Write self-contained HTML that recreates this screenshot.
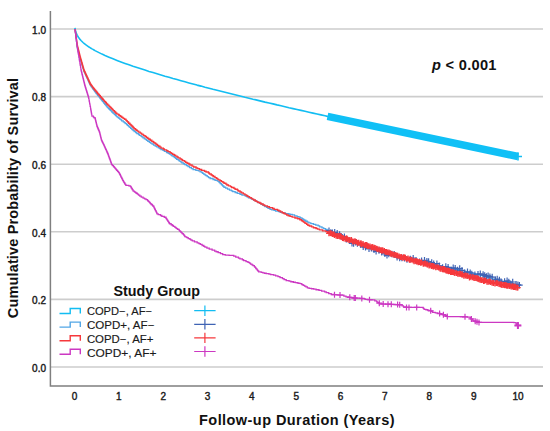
<!DOCTYPE html>
<html><head><meta charset="utf-8"><style>
html,body{margin:0;padding:0;background:#fff;overflow:hidden;}
svg{display:block;}
.t{font-family:"Liberation Sans",sans-serif;font-size:10px;fill:#1a1a1a;stroke:#1a1a1a;stroke-width:0.4px;}
.b{font-family:"Liberation Sans",sans-serif;font-weight:bold;fill:#111;}
</style></head><body>
<svg width="550" height="431" viewBox="0 0 550 431">
<line x1="51" y1="367.0" x2="543" y2="367.0" stroke="#cdcdcd" stroke-width="1.6"/>
<line x1="51" y1="299.4" x2="543" y2="299.4" stroke="#cdcdcd" stroke-width="1.6"/>
<line x1="51" y1="231.8" x2="543" y2="231.8" stroke="#cdcdcd" stroke-width="1.6"/>
<line x1="51" y1="164.2" x2="543" y2="164.2" stroke="#cdcdcd" stroke-width="1.6"/>
<line x1="51" y1="96.6" x2="543" y2="96.6" stroke="#cdcdcd" stroke-width="1.6"/>
<line x1="51" y1="29.0" x2="543" y2="29.0" stroke="#cdcdcd" stroke-width="1.6"/>
<path d="M50.4 11V385.9H543" fill="none" stroke="#7f7f7f" stroke-width="1.5"/>
<polyline points="75.0,27.8 75.2,29.6 75.5,30.7 75.8,31.6 76.0,32.4 76.2,33.1 76.5,33.7 76.8,34.3 77.0,34.8 77.2,35.3 77.5,35.8 77.8,36.2 78.0,36.6 78.2,37.0 78.5,37.4 78.8,37.8 79.0,38.1 80.0,39.4 81.0,40.5 82.0,41.5 83.0,42.5 84.0,43.3 85.0,44.1 86.0,44.9 87.0,45.6 88.0,46.3 89.0,47.0 90.0,47.6 91.0,48.3 92.0,48.9 93.0,49.4 94.0,50.0 95.0,50.6 96.0,51.1 97.0,51.6 98.0,52.1 99.0,52.6 100.0,53.1 101.0,53.6 102.0,54.1 103.0,54.5 104.0,55.0 105.0,55.5 109.0,57.2 113.0,58.8 117.0,60.4 121.0,61.9 125.0,63.4 129.0,64.8 133.0,66.2 137.0,67.5 141.0,68.8 145.0,70.1 149.0,71.4 153.0,72.6 157.0,73.8 161.0,75.0 165.0,76.2 169.0,77.3 173.0,78.5 177.0,79.6 181.0,80.7 185.0,81.8 189.0,82.9 193.0,84.0 197.0,85.1 201.0,86.1 205.0,87.2 209.0,88.2 213.0,89.3 217.0,90.3 221.0,91.3 225.0,92.3 229.0,93.3 233.0,94.3 237.0,95.3 241.0,96.3 245.0,97.3 249.0,98.2 253.0,99.2 257.0,100.1 261.0,101.1 265.0,102.1 269.0,103.0 273.0,103.9 277.0,104.9 281.0,105.8 285.0,106.7 289.0,107.7 293.0,108.6 297.0,109.5 301.0,110.4 305.0,111.3 309.0,112.2 313.0,113.1 317.0,114.0 321.0,114.9 325.0,115.8 327.5,116.4 518.0,156.5" fill="none" stroke="#12bdf2" stroke-width="1.6" stroke-linejoin="round"/>
<polyline points="327.5,116.4 518.0,156.5" fill="none" stroke="#10c0f6" stroke-width="7.5" stroke-linejoin="round"/>
<path d="M514.0 156.5H522.0M518.0 152.5V160.5" stroke="#12bdf2" stroke-width="1.6"/>
<path d="M75.0 29.0L75.21 30.81L75.43 32.62L75.63 34.33L75.84 36.10L76.03 37.79V38.58H76.22L76.40 40.88V41.44H76.53L76.70 43.44V44.16H76.87L77.03 46.14V46.59H77.26V47.34H77.41V48.21H77.70V49.15H77.88V49.95H78.10V50.82H78.31V51.56H78.47V52.49H78.77V53.34H78.90V53.98H79.09V54.77H79.29V55.46H79.44V56.30H79.71V57.11H79.85V57.81H80.05V58.69H80.37V59.75H80.70V60.68H80.95V61.39H81.14V62.14H81.41V62.94H81.63V63.81H81.95V64.68H82.16V65.61H82.52V66.57H82.75V67.28H82.96V68.25H83.35V69.18H83.53V69.81H83.74V70.77H84.12V71.68H84.50V72.40H84.78V73.17H85.21V74.12H85.64V75.08H86.09V75.99H86.47V76.80H86.84V77.54H87.14V78.22H87.46V78.91H87.77V79.70H88.19V80.50H88.50V81.28H88.90V82.01H89.17V82.76H89.58V83.66H89.99V84.44H90.30V85.31H90.95V86.06H91.37V86.87H92.11V87.81H92.73V88.58H93.21V89.29H93.75V90.17H94.48V91.00H94.93V91.89H95.76V92.82H96.27V93.66H97.10V94.51H97.63V95.38H98.49V96.37H99.21V97.22H99.84V98.01H100.47V98.84H101.18V99.70H101.84V100.45H102.38V101.38H103.33V102.38H103.96V103.30H104.81V104.26H105.49V105.20H106.32V106.21H107.10V107.07H107.84V107.86H108.67V108.74H109.61V109.59H110.36V110.36H111.17V111.12H111.87V111.98H112.89V112.98H113.87V113.88H114.68V114.71H115.54V115.46H116.17V116.14H116.98V116.85H117.97V117.63H118.93V118.34H119.75V119.13H120.92V119.89H121.65V120.80H123.22V121.87H124.33V122.68H125.25V123.63H126.67V124.64H127.51V125.39H128.36V126.12H129.13V126.80H129.87V127.47H130.65V128.26H131.65V129.06H132.43V129.81H133.34V130.63H134.27V131.69H135.71V132.61H136.85V133.57H138.44V134.44H139.31V135.38H141.11V136.29H141.90V136.96H142.99V137.83H144.36V138.83H145.85V139.65H146.71V140.33H147.80V141.26H149.36V142.23H150.56V143.17H152.07V144.22H153.56V145.20H155.22V146.09H156.72V146.97H158.33V147.83H159.79V148.59H161.01V149.48H162.96V150.43H164.37V151.43H166.51V152.51H168.21V153.33H169.41V154.16H171.03V155.04H171.91V155.83H173.25V156.71H174.39V157.56H175.65V158.33H176.55V159.25H178.26V160.22H179.27V161.06H180.62V161.95H181.79V162.89H183.33V163.73H184.64V164.63H186.42V165.63H188.03V166.56H189.60V167.55H191.42V168.58H193.11V169.58H195.88V170.31H198.40V170.90H200.13V171.78H201.82V172.67H202.69V173.32H203.67V174.08H204.87V174.85H205.87V175.67H207.21V176.62H208.58V177.62H210.13V178.51H213.05V179.49H215.06V180.36H217.41V181.08H218.69V181.77H219.44V182.56H220.23V183.55H221.39V184.57H222.25V185.39H222.98V186.27H223.97V187.26H225.67V188.14H227.54V189.09H229.50V190.05H231.44V190.84H232.71V191.69H235.14V192.51H237.25V193.40H240.04V194.25H241.96V195.19H245.28V196.10H246.99V196.86H248.47V197.81H250.84V198.71H252.10V199.35H253.43V200.07H255.03V200.76H256.20V201.44H257.47V202.34H259.34V203.34H261.02V204.26H262.58V205.02H263.69V205.70H264.96V206.53H266.63V207.39H267.99V208.37H270.07V209.33H271.81V209.89H274.05V210.43H275.59V211.06H278.46V211.71H280.16V212.25H282.27V212.97H285.46V213.55H288.30V213.98H289.83V214.36H292.23V214.91H294.56V215.78H297.03V216.57H298.94V217.16H300.28V217.96H301.93V218.77H302.96V219.42H304.09V220.26H305.77V221.26H307.43V222.21H308.93V222.97H310.82V223.65H313.46V224.40H315.74V225.12H318.17V225.86H319.67V226.79H321.96V227.79H323.71V228.65H325.45V229.50H327.11V230.22H328.06V230.94H329.00" fill="none" stroke="#52a6e6" stroke-width="1.3"/>
<polyline points="327.3,230.0 329.0,231.3 345.0,238.3 360.0,245.3 390.0,254.7 405.0,258.0 423.6,261.6 447.3,267.7 470.9,272.5 494.6,279.3 520.0,285.2" fill="none" stroke="#52a6e6" stroke-width="1.3"/>
<path d="M325.7 230.7H332.3M329.0 227.4V234.0" stroke="#3f63b4" stroke-width="1.2"/>
<path d="M327.5 232.6H334.1M330.8 229.3V235.9" stroke="#3f63b4" stroke-width="1.2"/>
<path d="M329.1 232.9H335.7M332.4 229.6V236.2" stroke="#3f63b4" stroke-width="1.2"/>
<path d="M331.4 232.4H338.0M334.7 229.1V235.7" stroke="#3f63b4" stroke-width="1.2"/>
<path d="M333.9 233.4H340.5M337.2 230.1V236.7" stroke="#3f63b4" stroke-width="1.2"/>
<path d="M336.3 234.5H342.9M339.6 231.2V237.8" stroke="#3f63b4" stroke-width="1.2"/>
<path d="M337.9 236.4H344.5M341.2 233.1V239.7" stroke="#3f63b4" stroke-width="1.2"/>
<path d="M341.1 236.8H347.7M344.4 233.5V240.1" stroke="#3f63b4" stroke-width="1.2"/>
<path d="M343.0 239.3H349.6M346.3 236.0V242.6" stroke="#3f63b4" stroke-width="1.2"/>
<path d="M346.4 240.8H353.0M349.7 237.5V244.1" stroke="#3f63b4" stroke-width="1.2"/>
<path d="M348.7 243.1H355.3M352.0 239.8V246.4" stroke="#3f63b4" stroke-width="1.2"/>
<path d="M350.3 243.5H356.9M353.6 240.2V246.8" stroke="#3f63b4" stroke-width="1.2"/>
<path d="M352.4 242.2H359.0M355.7 238.9V245.5" stroke="#3f63b4" stroke-width="1.2"/>
<path d="M354.1 243.5H360.7M357.4 240.2V246.8" stroke="#3f63b4" stroke-width="1.2"/>
<path d="M357.3 244.5H363.9M360.6 241.2V247.8" stroke="#3f63b4" stroke-width="1.2"/>
<path d="M359.9 246.8H366.5M363.2 243.5V250.1" stroke="#3f63b4" stroke-width="1.2"/>
<path d="M362.2 247.2H368.8M365.5 243.9V250.5" stroke="#3f63b4" stroke-width="1.2"/>
<path d="M363.8 246.1H370.4M367.1 242.8V249.4" stroke="#3f63b4" stroke-width="1.2"/>
<path d="M365.7 248.7H372.3M369.0 245.4V252.0" stroke="#3f63b4" stroke-width="1.2"/>
<path d="M368.1 248.3H374.7M371.4 245.0V251.6" stroke="#3f63b4" stroke-width="1.2"/>
<path d="M370.7 249.6H377.3M374.0 246.3V252.9" stroke="#3f63b4" stroke-width="1.2"/>
<path d="M372.8 251.3H379.4M376.1 248.0V254.6" stroke="#3f63b4" stroke-width="1.2"/>
<path d="M375.7 250.4H382.3M379.0 247.1V253.7" stroke="#3f63b4" stroke-width="1.2"/>
<path d="M378.4 252.2H385.0M381.7 248.9V255.5" stroke="#3f63b4" stroke-width="1.2"/>
<path d="M381.6 253.8H388.2M384.9 250.5V257.1" stroke="#3f63b4" stroke-width="1.2"/>
<path d="M383.7 255.3H390.3M387.0 252.0V258.6" stroke="#3f63b4" stroke-width="1.2"/>
<path d="M385.5 254.0H392.1M388.8 250.7V257.3" stroke="#3f63b4" stroke-width="1.2"/>
<path d="M388.5 254.0H395.1M391.8 250.7V257.3" stroke="#3f63b4" stroke-width="1.2"/>
<path d="M390.9 254.2H397.5M394.2 250.9V257.5" stroke="#3f63b4" stroke-width="1.2"/>
<path d="M393.8 257.1H400.4M397.1 253.8V260.4" stroke="#3f63b4" stroke-width="1.2"/>
<path d="M396.4 258.0H403.0M399.7 254.7V261.3" stroke="#3f63b4" stroke-width="1.2"/>
<path d="M398.6 257.9H405.2M401.9 254.6V261.2" stroke="#3f63b4" stroke-width="1.2"/>
<path d="M401.2 258.2H407.8M404.5 254.9V261.5" stroke="#3f63b4" stroke-width="1.2"/>
<path d="M403.7 259.5H410.3M407.0 256.2V262.8" stroke="#3f63b4" stroke-width="1.2"/>
<path d="M407.0 259.0H413.6M410.3 255.7V262.3" stroke="#3f63b4" stroke-width="1.2"/>
<path d="M409.9 258.2H416.5M413.2 254.9V261.5" stroke="#3f63b4" stroke-width="1.2"/>
<path d="M412.8 260.6H419.4M416.1 257.3V263.9" stroke="#3f63b4" stroke-width="1.2"/>
<path d="M416.3 261.8H422.9M419.6 258.5V265.1" stroke="#3f63b4" stroke-width="1.2"/>
<path d="M418.3 260.9H424.9M421.6 257.6V264.2" stroke="#3f63b4" stroke-width="1.2"/>
<path d="M421.2 260.3H427.8M424.5 257.0V263.6" stroke="#3f63b4" stroke-width="1.2"/>
<path d="M423.6 261.4H430.2M426.9 258.1V264.7" stroke="#3f63b4" stroke-width="1.2"/>
<path d="M425.3 261.5H431.9M428.6 258.2V264.8" stroke="#3f63b4" stroke-width="1.2"/>
<path d="M428.4 262.5H435.0M431.7 259.2V265.8" stroke="#3f63b4" stroke-width="1.2"/>
<path d="M430.4 263.8H437.0M433.7 260.5V267.1" stroke="#3f63b4" stroke-width="1.2"/>
<path d="M433.6 263.7H440.2M436.9 260.4V267.0" stroke="#3f63b4" stroke-width="1.2"/>
<path d="M436.0 265.8H442.6M439.3 262.5V269.1" stroke="#3f63b4" stroke-width="1.2"/>
<path d="M439.3 267.5H445.9M442.6 264.2V270.8" stroke="#3f63b4" stroke-width="1.2"/>
<path d="M442.5 266.6H449.1M445.8 263.3V269.9" stroke="#3f63b4" stroke-width="1.2"/>
<path d="M444.8 267.4H451.4M448.1 264.1V270.7" stroke="#3f63b4" stroke-width="1.2"/>
<path d="M448.1 270.0H454.7M451.4 266.7V273.3" stroke="#3f63b4" stroke-width="1.2"/>
<path d="M449.9 267.9H456.5M453.2 264.6V271.2" stroke="#3f63b4" stroke-width="1.2"/>
<path d="M451.9 268.4H458.5M455.2 265.1V271.7" stroke="#3f63b4" stroke-width="1.2"/>
<path d="M454.3 270.1H460.9M457.6 266.8V273.4" stroke="#3f63b4" stroke-width="1.2"/>
<path d="M456.4 268.6H463.0M459.7 265.3V271.9" stroke="#3f63b4" stroke-width="1.2"/>
<path d="M458.7 270.3H465.3M462.0 267.0V273.6" stroke="#3f63b4" stroke-width="1.2"/>
<path d="M461.3 272.7H467.9M464.6 269.4V276.0" stroke="#3f63b4" stroke-width="1.2"/>
<path d="M464.2 271.9H470.8M467.5 268.6V275.2" stroke="#3f63b4" stroke-width="1.2"/>
<path d="M466.9 272.9H473.5M470.2 269.6V276.2" stroke="#3f63b4" stroke-width="1.2"/>
<path d="M468.5 274.1H475.1M471.8 270.8V277.4" stroke="#3f63b4" stroke-width="1.2"/>
<path d="M471.6 274.8H478.2M474.9 271.5V278.1" stroke="#3f63b4" stroke-width="1.2"/>
<path d="M474.7 274.2H481.3M478.0 270.9V277.5" stroke="#3f63b4" stroke-width="1.2"/>
<path d="M477.0 273.9H483.6M480.3 270.6V277.2" stroke="#3f63b4" stroke-width="1.2"/>
<path d="M479.8 274.6H486.4M483.1 271.3V277.9" stroke="#3f63b4" stroke-width="1.2"/>
<path d="M481.4 275.5H488.0M484.7 272.2V278.8" stroke="#3f63b4" stroke-width="1.2"/>
<path d="M483.2 276.5H489.8M486.5 273.2V279.8" stroke="#3f63b4" stroke-width="1.2"/>
<path d="M484.8 275.8H491.4M488.1 272.5V279.1" stroke="#3f63b4" stroke-width="1.2"/>
<path d="M486.6 276.7H493.2M489.9 273.4V280.0" stroke="#3f63b4" stroke-width="1.2"/>
<path d="M488.9 277.1H495.5M492.2 273.8V280.4" stroke="#3f63b4" stroke-width="1.2"/>
<path d="M492.1 279.9H498.7M495.4 276.6V283.2" stroke="#3f63b4" stroke-width="1.2"/>
<path d="M493.9 279.1H500.5M497.2 275.8V282.4" stroke="#3f63b4" stroke-width="1.2"/>
<path d="M496.1 280.0H502.7M499.4 276.7V283.3" stroke="#3f63b4" stroke-width="1.2"/>
<path d="M497.9 281.9H504.5M501.2 278.6V285.2" stroke="#3f63b4" stroke-width="1.2"/>
<path d="M501.3 281.5H507.9M504.6 278.2V284.8" stroke="#3f63b4" stroke-width="1.2"/>
<path d="M503.8 280.9H510.4M507.1 277.6V284.2" stroke="#3f63b4" stroke-width="1.2"/>
<path d="M505.5 282.1H512.1M508.8 278.8V285.4" stroke="#3f63b4" stroke-width="1.2"/>
<path d="M507.5 284.1H514.1M510.8 280.8V287.4" stroke="#3f63b4" stroke-width="1.2"/>
<path d="M509.4 282.0H516.0M512.7 278.7V285.3" stroke="#3f63b4" stroke-width="1.2"/>
<path d="M512.8 284.4H519.4M516.1 281.1V287.7" stroke="#3f63b4" stroke-width="1.2"/>
<path d="M514.6 284.8H521.2M517.9 281.5V288.1" stroke="#3f63b4" stroke-width="1.2"/>
<path d="M516.1 285.2H522.7M519.4 281.9V288.5" stroke="#3f63b4" stroke-width="1.2"/>
<path d="M75.0 29.0L75.25 30.75V31.32H75.41V32.39H75.55L75.72 34.09V34.69H75.89L76.09 36.75V37.42H76.28L76.48 39.51V39.95H76.61L76.86 42.14V42.91H77.07L77.23 44.77V45.47H77.42V46.40H77.58V47.04H77.75V47.82H77.98V48.60H78.15V49.34H78.35V50.05H78.51V50.73H78.70V51.45H78.88V52.19H79.08V52.96H79.27V53.66H79.43V54.51H79.70V55.41H79.89V56.19H80.09V57.17H80.40V58.03H80.58V58.71H80.79V59.39H80.97V60.07H81.18V60.94H81.47V61.79H81.66V62.65H81.96V63.55H82.17V64.28H82.37V65.01H82.58V65.77H82.81V66.58H83.05V67.38H83.26V68.28H83.56V69.10H83.73V69.87H83.99V70.54H84.31V71.49H84.88V72.40H85.15V73.05H85.48V73.77H85.82V74.58H86.23V75.41H86.59V76.25H87.01V77.13H87.41V78.03H87.85V78.88H88.20V79.76H88.66V80.68H89.06V81.58H89.49V82.48H89.90V83.29H90.23V84.26H90.96V85.05H91.45V85.88H92.24V86.83H92.90V87.60H93.42V88.46H94.23V89.52H95.03V90.56H95.90V91.57H96.74V92.53H97.51V93.34H98.09V94.22H99.00V95.07H99.52V95.82H100.28V96.70H101.09V97.60H101.88V98.43H102.56V99.26H103.36V100.12H104.09V100.83H104.63V101.59H105.45V102.53H106.32V103.37H106.94V104.18H107.82V105.15H108.88V106.09H109.70V106.84H110.38V107.57H111.16V108.43H112.11V109.20H112.69V109.83H113.37V110.62H114.27V111.47H115.07V112.27H115.87V113.20H116.94V114.17H118.65V115.06H119.47V115.74H120.60V116.56H121.81V117.42H123.08V118.35H124.47V119.31H125.82V120.15H126.47V120.82H127.16V121.58H128.00V122.32H128.63V123.22H129.81V124.18H130.55V125.04H131.54V126.06H132.59V127.02H133.45V127.77H134.09V128.74H135.38V129.54H136.15V130.22H137.31V131.10H138.64V132.12H140.18V133.14H141.55V134.11H142.93V134.89H143.74V135.66H145.12V136.57H146.33V137.49H147.76V138.37H148.86V139.27H150.32V140.30H151.81V141.36H153.35V142.19H154.16V143.01H155.59V143.85H156.45V144.53H157.45V145.34H158.65V146.27H160.00V147.16H161.07V148.12H163.30V148.98H164.36V149.84H166.60V150.77H167.94V151.67H170.04V152.58H171.17V153.41H172.69V154.38H174.25V155.29H175.57V156.17H177.05V156.97H178.11V157.91H180.06V159.01H181.61V159.81H182.60V160.66H184.47V161.56H185.66V162.33H187.11V163.25H188.81V164.07H189.88V165.02H192.05V166.11H193.63V167.07H196.01V167.93H197.62V168.67H199.45V169.50H201.63V170.40H204.43V171.21H206.06V171.95H208.46V173.04H209.44V173.95H211.18V174.96H212.46V175.70H213.40V176.54H214.96V177.59H216.55V178.44H217.48V179.09H218.51V179.91H220.07V180.79H221.46V181.67H223.01V182.47H224.11V183.32H225.87V184.16H226.91V184.93H228.46V185.85H230.50V186.64H231.59V187.51H233.93V188.39H235.10V189.27H237.42V190.14H238.25V190.94H240.06V191.94H241.57V192.90H243.27V193.90H244.90V194.92H246.63V195.79H247.82V196.64H249.52V197.64H251.20V198.42H252.17V199.15H253.66V200.06H255.25V200.93H256.66V201.62H257.93V202.47H260.01V203.28H261.10V204.06H263.06V204.98H264.69V205.90H267.37V206.74H269.44V207.66H272.56V208.49H274.15V209.36H277.46V210.24H278.90V211.03H280.58V211.87H282.23V212.70H283.87V213.45H285.20V214.17H286.73V214.93H288.22V215.75H290.07V216.37H292.17V217.16H294.99V218.01H297.54V218.79H299.87V219.70H301.56V220.77H302.92V221.63H304.01V222.36H305.02V223.27H306.63V224.27H307.85V225.23H309.39V226.07H311.59V226.85H313.48V227.69H316.05V228.48H317.62V229.11H319.46V229.86H322.55V230.85H325.89V231.61H327.45V232.45H329.00" fill="none" stroke="#f6383c" stroke-width="1.4"/>
<polyline points="327.3,231.8 329.0,233.0 400.0,256.5 423.6,263.6 447.3,270.7 470.9,277.3 494.6,283.2 518.0,287.6" fill="none" stroke="#f6383c" stroke-width="1.4"/>
<path d="M326.1 233.4H331.9M329.0 230.5V236.3" stroke="#f6383c" stroke-width="1.4"/>
<path d="M327.4 233.1H333.2M330.3 230.2V236.0" stroke="#f6383c" stroke-width="1.4"/>
<path d="M328.3 233.3H334.1M331.2 230.4V236.2" stroke="#f6383c" stroke-width="1.4"/>
<path d="M329.6 234.2H335.4M332.5 231.3V237.1" stroke="#f6383c" stroke-width="1.4"/>
<path d="M331.0 234.4H336.8M333.9 231.5V237.3" stroke="#f6383c" stroke-width="1.4"/>
<path d="M331.7 235.2H337.5M334.6 232.3V238.1" stroke="#f6383c" stroke-width="1.4"/>
<path d="M333.3 235.8H339.1M336.2 232.9V238.7" stroke="#f6383c" stroke-width="1.4"/>
<path d="M334.7 236.2H340.5M337.6 233.3V239.1" stroke="#f6383c" stroke-width="1.4"/>
<path d="M336.0 236.0H341.8M338.9 233.1V238.9" stroke="#f6383c" stroke-width="1.4"/>
<path d="M337.1 236.5H342.9M340.0 233.6V239.4" stroke="#f6383c" stroke-width="1.4"/>
<path d="M337.6 236.2H343.4M340.5 233.3V239.1" stroke="#f6383c" stroke-width="1.4"/>
<path d="M338.4 236.8H344.2M341.3 233.9V239.7" stroke="#f6383c" stroke-width="1.4"/>
<path d="M339.7 238.0H345.5M342.6 235.1V240.9" stroke="#f6383c" stroke-width="1.4"/>
<path d="M340.7 238.3H346.5M343.6 235.4V241.2" stroke="#f6383c" stroke-width="1.4"/>
<path d="M342.3 238.9H348.1M345.2 236.0V241.8" stroke="#f6383c" stroke-width="1.4"/>
<path d="M343.2 238.3H349.0M346.1 235.4V241.2" stroke="#f6383c" stroke-width="1.4"/>
<path d="M343.9 238.5H349.7M346.8 235.6V241.4" stroke="#f6383c" stroke-width="1.4"/>
<path d="M344.6 239.3H350.4M347.5 236.4V242.2" stroke="#f6383c" stroke-width="1.4"/>
<path d="M346.1 240.0H351.9M349.0 237.1V242.9" stroke="#f6383c" stroke-width="1.4"/>
<path d="M347.1 240.1H352.9M350.0 237.2V243.0" stroke="#f6383c" stroke-width="1.4"/>
<path d="M348.5 239.9H354.3M351.4 237.0V242.8" stroke="#f6383c" stroke-width="1.4"/>
<path d="M349.8 241.3H355.6M352.7 238.4V244.2" stroke="#f6383c" stroke-width="1.4"/>
<path d="M351.1 241.6H356.9M354.0 238.7V244.5" stroke="#f6383c" stroke-width="1.4"/>
<path d="M352.1 241.2H357.9M355.0 238.3V244.1" stroke="#f6383c" stroke-width="1.4"/>
<path d="M353.5 241.9H359.3M356.4 239.0V244.8" stroke="#f6383c" stroke-width="1.4"/>
<path d="M354.9 243.1H360.7M357.8 240.2V246.0" stroke="#f6383c" stroke-width="1.4"/>
<path d="M355.8 242.7H361.6M358.7 239.8V245.6" stroke="#f6383c" stroke-width="1.4"/>
<path d="M357.4 243.6H363.2M360.3 240.7V246.5" stroke="#f6383c" stroke-width="1.4"/>
<path d="M358.1 243.1H363.9M361.0 240.2V246.0" stroke="#f6383c" stroke-width="1.4"/>
<path d="M358.7 244.3H364.5M361.6 241.4V247.2" stroke="#f6383c" stroke-width="1.4"/>
<path d="M360.1 243.8H365.9M363.0 240.9V246.7" stroke="#f6383c" stroke-width="1.4"/>
<path d="M361.5 245.3H367.3M364.4 242.4V248.2" stroke="#f6383c" stroke-width="1.4"/>
<path d="M362.7 244.9H368.5M365.6 242.0V247.8" stroke="#f6383c" stroke-width="1.4"/>
<path d="M363.8 245.0H369.6M366.7 242.1V247.9" stroke="#f6383c" stroke-width="1.4"/>
<path d="M364.4 246.2H370.2M367.3 243.3V249.1" stroke="#f6383c" stroke-width="1.4"/>
<path d="M365.6 246.1H371.4M368.5 243.2V249.0" stroke="#f6383c" stroke-width="1.4"/>
<path d="M367.1 246.5H372.9M370.0 243.6V249.4" stroke="#f6383c" stroke-width="1.4"/>
<path d="M368.6 247.4H374.4M371.5 244.5V250.3" stroke="#f6383c" stroke-width="1.4"/>
<path d="M369.3 247.0H375.1M372.2 244.1V249.9" stroke="#f6383c" stroke-width="1.4"/>
<path d="M370.1 247.3H375.9M373.0 244.4V250.2" stroke="#f6383c" stroke-width="1.4"/>
<path d="M371.3 247.7H377.1M374.2 244.8V250.6" stroke="#f6383c" stroke-width="1.4"/>
<path d="M372.2 247.8H378.0M375.1 244.9V250.7" stroke="#f6383c" stroke-width="1.4"/>
<path d="M373.7 248.6H379.5M376.6 245.7V251.5" stroke="#f6383c" stroke-width="1.4"/>
<path d="M374.7 249.2H380.5M377.6 246.3V252.1" stroke="#f6383c" stroke-width="1.4"/>
<path d="M376.2 249.5H382.0M379.1 246.6V252.4" stroke="#f6383c" stroke-width="1.4"/>
<path d="M377.7 250.1H383.5M380.6 247.2V253.0" stroke="#f6383c" stroke-width="1.4"/>
<path d="M378.8 250.5H384.6M381.7 247.6V253.4" stroke="#f6383c" stroke-width="1.4"/>
<path d="M379.3 250.5H385.1M382.2 247.6V253.4" stroke="#f6383c" stroke-width="1.4"/>
<path d="M380.0 250.3H385.8M382.9 247.4V253.2" stroke="#f6383c" stroke-width="1.4"/>
<path d="M381.4 250.9H387.2M384.3 248.0V253.8" stroke="#f6383c" stroke-width="1.4"/>
<path d="M382.4 251.9H388.2M385.3 249.0V254.8" stroke="#f6383c" stroke-width="1.4"/>
<path d="M383.5 251.8H389.3M386.4 248.9V254.7" stroke="#f6383c" stroke-width="1.4"/>
<path d="M384.6 252.4H390.4M387.5 249.5V255.3" stroke="#f6383c" stroke-width="1.4"/>
<path d="M386.0 252.3H391.8M388.9 249.4V255.2" stroke="#f6383c" stroke-width="1.4"/>
<path d="M387.1 252.9H392.9M390.0 250.0V255.8" stroke="#f6383c" stroke-width="1.4"/>
<path d="M387.9 253.8H393.7M390.8 250.9V256.7" stroke="#f6383c" stroke-width="1.4"/>
<path d="M389.0 253.9H394.8M391.9 251.0V256.8" stroke="#f6383c" stroke-width="1.4"/>
<path d="M390.3 254.7H396.1M393.2 251.8V257.6" stroke="#f6383c" stroke-width="1.4"/>
<path d="M391.3 254.7H397.1M394.2 251.8V257.6" stroke="#f6383c" stroke-width="1.4"/>
<path d="M392.3 254.9H398.1M395.2 252.0V257.8" stroke="#f6383c" stroke-width="1.4"/>
<path d="M393.6 255.3H399.4M396.5 252.4V258.2" stroke="#f6383c" stroke-width="1.4"/>
<path d="M394.7 255.7H400.5M397.6 252.8V258.6" stroke="#f6383c" stroke-width="1.4"/>
<path d="M396.2 256.4H402.0M399.1 253.5V259.3" stroke="#f6383c" stroke-width="1.4"/>
<path d="M397.7 257.2H403.5M400.6 254.3V260.1" stroke="#f6383c" stroke-width="1.4"/>
<path d="M398.5 257.0H404.3M401.4 254.1V259.9" stroke="#f6383c" stroke-width="1.4"/>
<path d="M400.0 257.8H405.8M402.9 254.9V260.7" stroke="#f6383c" stroke-width="1.4"/>
<path d="M400.7 257.1H406.5M403.6 254.2V260.0" stroke="#f6383c" stroke-width="1.4"/>
<path d="M401.6 257.4H407.4M404.5 254.5V260.3" stroke="#f6383c" stroke-width="1.4"/>
<path d="M402.4 257.6H408.2M405.3 254.7V260.5" stroke="#f6383c" stroke-width="1.4"/>
<path d="M403.6 258.8H409.4M406.5 255.9V261.7" stroke="#f6383c" stroke-width="1.4"/>
<path d="M405.1 258.5H410.9M408.0 255.6V261.4" stroke="#f6383c" stroke-width="1.4"/>
<path d="M406.4 259.5H412.2M409.3 256.6V262.4" stroke="#f6383c" stroke-width="1.4"/>
<path d="M407.1 260.0H412.9M410.0 257.1V262.9" stroke="#f6383c" stroke-width="1.4"/>
<path d="M408.6 259.6H414.4M411.5 256.7V262.5" stroke="#f6383c" stroke-width="1.4"/>
<path d="M410.2 260.3H416.0M413.1 257.4V263.2" stroke="#f6383c" stroke-width="1.4"/>
<path d="M411.2 261.3H417.0M414.1 258.4V264.2" stroke="#f6383c" stroke-width="1.4"/>
<path d="M412.6 260.8H418.4M415.5 257.9V263.7" stroke="#f6383c" stroke-width="1.4"/>
<path d="M413.6 261.5H419.4M416.5 258.6V264.4" stroke="#f6383c" stroke-width="1.4"/>
<path d="M414.5 261.4H420.3M417.4 258.5V264.3" stroke="#f6383c" stroke-width="1.4"/>
<path d="M415.3 262.3H421.1M418.2 259.4V265.2" stroke="#f6383c" stroke-width="1.4"/>
<path d="M415.9 262.2H421.7M418.8 259.3V265.1" stroke="#f6383c" stroke-width="1.4"/>
<path d="M416.8 261.9H422.6M419.7 259.0V264.8" stroke="#f6383c" stroke-width="1.4"/>
<path d="M417.7 262.8H423.5M420.6 259.9V265.7" stroke="#f6383c" stroke-width="1.4"/>
<path d="M418.8 262.5H424.6M421.7 259.6V265.4" stroke="#f6383c" stroke-width="1.4"/>
<path d="M420.4 263.8H426.2M423.3 260.9V266.7" stroke="#f6383c" stroke-width="1.4"/>
<path d="M421.9 263.5H427.7M424.8 260.6V266.4" stroke="#f6383c" stroke-width="1.4"/>
<path d="M422.7 263.7H428.5M425.6 260.8V266.6" stroke="#f6383c" stroke-width="1.4"/>
<path d="M424.1 264.3H429.9M427.0 261.4V267.2" stroke="#f6383c" stroke-width="1.4"/>
<path d="M424.7 264.7H430.5M427.6 261.8V267.6" stroke="#f6383c" stroke-width="1.4"/>
<path d="M426.2 265.6H432.0M429.1 262.7V268.5" stroke="#f6383c" stroke-width="1.4"/>
<path d="M427.0 265.1H432.8M429.9 262.2V268.0" stroke="#f6383c" stroke-width="1.4"/>
<path d="M428.5 266.0H434.3M431.4 263.1V268.9" stroke="#f6383c" stroke-width="1.4"/>
<path d="M429.8 265.8H435.6M432.7 262.9V268.7" stroke="#f6383c" stroke-width="1.4"/>
<path d="M430.4 266.7H436.2M433.3 263.8V269.6" stroke="#f6383c" stroke-width="1.4"/>
<path d="M431.3 266.3H437.1M434.2 263.4V269.2" stroke="#f6383c" stroke-width="1.4"/>
<path d="M432.9 267.4H438.7M435.8 264.5V270.3" stroke="#f6383c" stroke-width="1.4"/>
<path d="M434.2 267.2H440.0M437.1 264.3V270.1" stroke="#f6383c" stroke-width="1.4"/>
<path d="M435.7 267.6H441.5M438.6 264.7V270.5" stroke="#f6383c" stroke-width="1.4"/>
<path d="M437.1 268.5H442.9M440.0 265.6V271.4" stroke="#f6383c" stroke-width="1.4"/>
<path d="M438.0 268.8H443.8M440.9 265.9V271.7" stroke="#f6383c" stroke-width="1.4"/>
<path d="M439.5 269.0H445.3M442.4 266.1V271.9" stroke="#f6383c" stroke-width="1.4"/>
<path d="M440.2 269.5H446.0M443.1 266.6V272.4" stroke="#f6383c" stroke-width="1.4"/>
<path d="M440.9 269.2H446.7M443.8 266.3V272.1" stroke="#f6383c" stroke-width="1.4"/>
<path d="M441.6 269.3H447.4M444.5 266.4V272.2" stroke="#f6383c" stroke-width="1.4"/>
<path d="M442.3 269.9H448.1M445.2 267.0V272.8" stroke="#f6383c" stroke-width="1.4"/>
<path d="M443.2 270.6H449.0M446.1 267.7V273.5" stroke="#f6383c" stroke-width="1.4"/>
<path d="M444.0 270.6H449.8M446.9 267.7V273.5" stroke="#f6383c" stroke-width="1.4"/>
<path d="M444.7 270.6H450.5M447.6 267.7V273.5" stroke="#f6383c" stroke-width="1.4"/>
<path d="M445.2 270.6H451.0M448.1 267.7V273.5" stroke="#f6383c" stroke-width="1.4"/>
<path d="M445.7 271.3H451.5M448.6 268.4V274.2" stroke="#f6383c" stroke-width="1.4"/>
<path d="M446.8 271.0H452.6M449.7 268.1V273.9" stroke="#f6383c" stroke-width="1.4"/>
<path d="M447.8 272.2H453.6M450.7 269.3V275.1" stroke="#f6383c" stroke-width="1.4"/>
<path d="M448.5 272.2H454.3M451.4 269.3V275.1" stroke="#f6383c" stroke-width="1.4"/>
<path d="M449.4 272.1H455.2M452.3 269.2V275.0" stroke="#f6383c" stroke-width="1.4"/>
<path d="M450.8 272.4H456.6M453.7 269.5V275.3" stroke="#f6383c" stroke-width="1.4"/>
<path d="M451.9 273.0H457.7M454.8 270.1V275.9" stroke="#f6383c" stroke-width="1.4"/>
<path d="M453.5 273.1H459.3M456.4 270.2V276.0" stroke="#f6383c" stroke-width="1.4"/>
<path d="M454.9 273.9H460.7M457.8 271.0V276.8" stroke="#f6383c" stroke-width="1.4"/>
<path d="M456.1 273.9H461.9M459.0 271.0V276.8" stroke="#f6383c" stroke-width="1.4"/>
<path d="M457.0 273.7H462.8M459.9 270.8V276.6" stroke="#f6383c" stroke-width="1.4"/>
<path d="M457.6 273.9H463.4M460.5 271.0V276.8" stroke="#f6383c" stroke-width="1.4"/>
<path d="M458.9 274.5H464.7M461.8 271.6V277.4" stroke="#f6383c" stroke-width="1.4"/>
<path d="M459.6 274.5H465.4M462.5 271.6V277.4" stroke="#f6383c" stroke-width="1.4"/>
<path d="M461.0 275.8H466.8M463.9 272.9V278.7" stroke="#f6383c" stroke-width="1.4"/>
<path d="M462.3 275.4H468.1M465.2 272.5V278.3" stroke="#f6383c" stroke-width="1.4"/>
<path d="M463.0 275.7H468.8M465.9 272.8V278.6" stroke="#f6383c" stroke-width="1.4"/>
<path d="M464.1 275.8H469.9M467.0 272.9V278.7" stroke="#f6383c" stroke-width="1.4"/>
<path d="M465.0 276.2H470.8M467.9 273.3V279.1" stroke="#f6383c" stroke-width="1.4"/>
<path d="M466.6 277.5H472.4M469.5 274.6V280.4" stroke="#f6383c" stroke-width="1.4"/>
<path d="M467.7 276.9H473.5M470.6 274.0V279.8" stroke="#f6383c" stroke-width="1.4"/>
<path d="M469.3 277.4H475.1M472.2 274.5V280.3" stroke="#f6383c" stroke-width="1.4"/>
<path d="M470.2 277.2H476.0M473.1 274.3V280.1" stroke="#f6383c" stroke-width="1.4"/>
<path d="M471.1 278.0H476.9M474.0 275.1V280.9" stroke="#f6383c" stroke-width="1.4"/>
<path d="M472.1 278.0H477.9M475.0 275.1V280.9" stroke="#f6383c" stroke-width="1.4"/>
<path d="M473.2 278.0H479.0M476.1 275.1V280.9" stroke="#f6383c" stroke-width="1.4"/>
<path d="M474.0 278.3H479.8M476.9 275.4V281.2" stroke="#f6383c" stroke-width="1.4"/>
<path d="M474.9 278.5H480.7M477.8 275.6V281.4" stroke="#f6383c" stroke-width="1.4"/>
<path d="M475.4 278.9H481.2M478.3 276.0V281.8" stroke="#f6383c" stroke-width="1.4"/>
<path d="M476.2 279.4H482.0M479.1 276.5V282.3" stroke="#f6383c" stroke-width="1.4"/>
<path d="M477.3 279.9H483.1M480.2 277.0V282.8" stroke="#f6383c" stroke-width="1.4"/>
<path d="M478.5 280.2H484.3M481.4 277.3V283.1" stroke="#f6383c" stroke-width="1.4"/>
<path d="M480.0 280.1H485.8M482.9 277.2V283.0" stroke="#f6383c" stroke-width="1.4"/>
<path d="M480.8 281.1H486.6M483.7 278.2V284.0" stroke="#f6383c" stroke-width="1.4"/>
<path d="M481.5 280.9H487.3M484.4 278.0V283.8" stroke="#f6383c" stroke-width="1.4"/>
<path d="M482.7 280.4H488.5M485.6 277.5V283.3" stroke="#f6383c" stroke-width="1.4"/>
<path d="M484.1 281.8H489.9M487.0 278.9V284.7" stroke="#f6383c" stroke-width="1.4"/>
<path d="M485.3 281.9H491.1M488.2 279.0V284.8" stroke="#f6383c" stroke-width="1.4"/>
<path d="M486.7 281.5H492.5M489.6 278.6V284.4" stroke="#f6383c" stroke-width="1.4"/>
<path d="M487.8 282.2H493.6M490.7 279.3V285.1" stroke="#f6383c" stroke-width="1.4"/>
<path d="M489.2 282.9H495.0M492.1 280.0V285.8" stroke="#f6383c" stroke-width="1.4"/>
<path d="M490.6 283.0H496.4M493.5 280.1V285.9" stroke="#f6383c" stroke-width="1.4"/>
<path d="M492.1 283.5H497.9M495.0 280.6V286.4" stroke="#f6383c" stroke-width="1.4"/>
<path d="M493.4 283.2H499.2M496.3 280.3V286.1" stroke="#f6383c" stroke-width="1.4"/>
<path d="M493.9 283.2H499.7M496.8 280.3V286.1" stroke="#f6383c" stroke-width="1.4"/>
<path d="M494.8 283.3H500.6M497.7 280.4V286.2" stroke="#f6383c" stroke-width="1.4"/>
<path d="M496.2 284.1H502.0M499.1 281.2V287.0" stroke="#f6383c" stroke-width="1.4"/>
<path d="M497.4 284.4H503.2M500.3 281.5V287.3" stroke="#f6383c" stroke-width="1.4"/>
<path d="M498.6 284.5H504.4M501.5 281.6V287.4" stroke="#f6383c" stroke-width="1.4"/>
<path d="M499.1 285.0H504.9M502.0 282.1V287.9" stroke="#f6383c" stroke-width="1.4"/>
<path d="M500.5 284.9H506.3M503.4 282.0V287.8" stroke="#f6383c" stroke-width="1.4"/>
<path d="M501.6 285.2H507.4M504.5 282.3V288.1" stroke="#f6383c" stroke-width="1.4"/>
<path d="M502.1 285.4H507.9M505.0 282.5V288.3" stroke="#f6383c" stroke-width="1.4"/>
<path d="M502.9 284.8H508.7M505.8 281.9V287.7" stroke="#f6383c" stroke-width="1.4"/>
<path d="M503.7 285.7H509.5M506.6 282.8V288.6" stroke="#f6383c" stroke-width="1.4"/>
<path d="M504.4 285.9H510.2M507.3 283.0V288.8" stroke="#f6383c" stroke-width="1.4"/>
<path d="M506.0 285.9H511.8M508.9 283.0V288.8" stroke="#f6383c" stroke-width="1.4"/>
<path d="M506.9 286.0H512.7M509.8 283.1V288.9" stroke="#f6383c" stroke-width="1.4"/>
<path d="M508.2 286.6H514.0M511.1 283.7V289.5" stroke="#f6383c" stroke-width="1.4"/>
<path d="M509.3 286.7H515.1M512.2 283.8V289.6" stroke="#f6383c" stroke-width="1.4"/>
<path d="M509.9 286.2H515.7M512.8 283.3V289.1" stroke="#f6383c" stroke-width="1.4"/>
<path d="M510.7 287.1H516.5M513.6 284.2V290.0" stroke="#f6383c" stroke-width="1.4"/>
<path d="M511.5 287.0H517.3M514.4 284.1V289.9" stroke="#f6383c" stroke-width="1.4"/>
<path d="M512.1 286.5H517.9M515.0 283.6V289.4" stroke="#f6383c" stroke-width="1.4"/>
<path d="M512.9 287.4H518.7M515.8 284.5V290.3" stroke="#f6383c" stroke-width="1.4"/>
<path d="M514.1 287.6H519.9M517.0 284.7V290.5" stroke="#f6383c" stroke-width="1.4"/>
<path d="M514.9 287.6H520.7M517.8 284.7V290.5" stroke="#f6383c" stroke-width="1.4"/>
<path d="M75.0 29.0L75.23 30.82L75.44 32.44V32.95H75.57L75.79 35.16V35.94H75.99L76.12 37.75V38.46H76.30L76.47 40.48V41.13H76.63L76.86 43.57V44.14H77.00L77.24 46.58L77.46 48.18V48.81H77.67L77.90 50.79V51.34H78.08V52.39H78.25V53.42H78.42V54.43H78.59L78.81 56.28V57.02H79.06L79.21 58.67V59.15H79.37V60.16H79.55V61.21H79.72L79.93 62.97V63.42H80.08V64.34H80.23V65.23H80.38L80.60 66.98V67.40H80.73L80.94 69.04V69.58H81.12V70.44H81.30V71.38H81.59V72.46H81.83V73.32H82.01V74.28H82.30V75.24H82.48V75.94H82.65V76.87H82.94V77.71H83.07V78.59H83.37V79.47H83.50V80.18H83.72V81.12H83.96V81.96H84.13V82.70H84.33V83.49H84.53V84.20H84.68V85.00H84.92V85.86H85.21V86.78H85.48V87.64H85.73V88.35H85.92V89.03H86.15V89.82H86.41V90.62H86.64V91.49H86.94V92.38H87.18V93.19H87.44V94.14H87.76V95.07H88.01V95.95H88.30V96.72H88.48V97.35H88.69V98.41H88.89L89.12 100.18V100.63H89.28V101.48H89.43L89.67 103.13V103.80H89.92L90.14 105.66V106.42H90.41L90.61 108.29V108.74H90.77V109.69H90.94V110.71H91.13V111.69H91.29V112.67H91.47V113.73H91.66L91.91 115.60V116.20H93.38V117.07H94.05V117.77H95.10V118.58H95.29V119.26H95.44V119.91H95.61V120.75H95.85V121.69H96.07V122.69H96.34V123.68H96.56V124.63H96.82V125.53H97.00V126.51H97.50V127.57H97.88V128.50H98.27V129.51H98.71V130.45H99.04V131.16H99.30V131.76H99.54V132.38H99.75V133.18H99.93V134.11H100.20V135.12H100.43V136.00H100.62V136.81H100.82V137.67H101.04V138.44H101.20V139.20H101.41V140.22H101.80V141.19H102.36V142.23H102.83V143.09H103.21V143.90H103.63V144.91H104.20V145.85H104.53V146.82H105.06V147.83H105.43V148.56H105.71V149.39H106.18V150.21H106.44V150.94H106.83V151.68H107.10V152.50H107.57V153.42H107.92V154.25H108.26V155.11H108.54V156.03H108.93V156.89H109.17V157.53H109.40V158.48H109.85V159.42H110.08V160.22H110.43V161.00H110.65V161.84H111.04V162.88H111.40V163.79H111.70V164.61H112.44V165.60H113.50V166.57H114.21V167.31H114.83V168.07H115.50V168.86H116.15V169.59H116.71V170.41H117.53V171.44H118.44V172.40H119.14V173.05H119.50V173.76H119.86V174.63H120.36V175.44H120.67V176.09H121.01V177.04H121.63V177.99H121.97V178.91H122.54V179.79H122.85V180.67H123.48V181.58H123.96V182.57H124.68V183.46H125.05V184.42H125.85V185.33H128.81V185.81H130.28V186.32H130.91V187.15H131.30V188.06H132.01V188.99H132.43V189.95H133.17V191.05H134.42V191.83H135.22V192.46H136.09V193.25H137.32V194.16H138.50V195.10H139.81V196.15H141.25V197.09H143.08V198.04H144.58V198.88H146.03V199.72H147.54V200.70H148.25V201.47H149.09V202.22H149.76V202.90H150.43V203.58H151.14V204.52H152.30V205.45H153.00V206.26H153.91V207.32H154.22V208.14H154.72V208.99H155.07V209.68H155.41V210.56H155.96V211.40H156.24V212.07H156.63V212.84H157.02V213.94H158.21V214.69H160.45V215.49H161.84V216.33H164.26V217.24H165.96V218.29H166.48V219.17H167.14V220.11H167.71V221.11H168.47V221.95H168.81V222.73H169.50V223.74H171.12V224.73H172.28V225.50H173.32V226.34H174.66V227.16H175.64V227.84H176.57V228.56H177.68V229.47H179.16V230.55H179.98V231.36H180.81V232.07H181.42V232.72H182.13V233.62H183.26V234.44H183.80V235.05H184.50V236.05H185.16V236.85H186.76V237.72H188.18V238.64H189.97V239.44H190.95V240.12H192.32V240.95H194.46V241.96H197.15V242.89H198.91V243.56H200.31V244.47H202.08V245.48H203.80V246.30H204.92V247.20H206.93V248.19H209.24V249.18H212.10V250.22H214.66V251.04H216.17V251.76H218.14V252.65H220.46V253.58H222.69V254.58H225.26V255.08H227.49V255.20H229.10V255.31H230.97V255.45H233.74V256.16H235.77V257.15H238.42V258.06H239.91V258.94H242.35V259.77H243.61V260.60H246.03V261.59H248.00V262.37H249.43V263.20H250.53V264.03H251.96V264.82H252.94V265.60H254.34V266.61H255.01V267.39H255.62V268.09H256.16V268.94H257.01V269.87H257.68V270.90H258.70V271.78H261.19V272.37H262.89V272.84H264.52V273.27H266.23V273.71H268.95V274.16H270.71V274.61H273.57V275.17H275.62V275.92H277.99V276.66H280.01V277.62H282.45V278.66H284.09V279.61H286.19V280.59H289.09V281.20H290.86V281.74H293.34V282.24H295.33V282.63H297.29V282.98H298.82V283.28H300.35V283.72H301.81V284.53H303.18V285.31H304.54V286.08H305.89V286.88H307.36V287.80H309.09V288.28H311.47V288.75H313.71V289.21H316.07V289.74H318.98V290.39H321.62V291.20H324.57V291.87H326.25V292.54H328.73V293.56H331.24V294.52H333.86V294.69H336.28V294.87H339.03V295.03H340.98V295.20H343.88V296.15H345.99V296.81H348.38V297.32H351.23V297.75H353.78V298.03H355.75V298.12H357.59V298.21H359.58V298.31H362.03V298.58H365.02V299.31H367.87V299.62H369.97V299.76H372.07V299.93H374.80V300.84H376.72V301.83H377.78V302.70H379.30V303.82H381.08V303.98H383.39V304.08H385.93V304.18H388.35V304.27H390.39V304.37H393.32V304.48H395.76V304.58H397.49V304.66H399.09V304.78H402.05V305.79H403.54V306.99H406.42V307.40H408.83V307.40H410.80V307.40H412.43V307.40H414.32V307.40H416.15V307.40H419.05V307.40H421.89V307.40H423.22V308.31H424.08V309.35H425.94V309.76H427.89V310.28H430.81V311.25H432.55V312.31H435.24V312.91H437.76V313.40H440.08V314.18H443.02V314.90H444.91V315.54H447.20V316.61H448.94V316.62H450.58V316.64H452.13V316.66H454.10V316.68H455.79V316.70H457.38V316.72H460.37V316.75H462.30V316.77H465.14V316.81H467.69V317.05H470.29V318.14H470.91V319.11H472.37V319.93H473.08V320.99H475.65V321.61H477.99V322.40H480.54V322.40H483.12V322.40H485.45V322.40H487.70V322.40H489.43V322.40H492.20V322.40H494.43V322.40H496.03V322.40H497.78V322.40H500.59V322.40H502.48V322.40H504.56V322.40H507.09V322.40H509.88V322.40H511.87V322.40H513.95V322.70H516.09V323.88H516.47V324.73H517.90" fill="none" stroke="#cc38c2" stroke-width="1.3"/>
<path d="M331.5 294.7H337.5M334.5 291.7V297.7" stroke="#cc38c2" stroke-width="1.2"/>
<path d="M337.0 295.0H343.0M340.0 292.0V298.0" stroke="#cc38c2" stroke-width="1.2"/>
<path d="M346.8 297.3H352.8M349.8 294.3V300.3" stroke="#cc38c2" stroke-width="1.2"/>
<path d="M351.2 298.0H357.2M354.2 295.0V301.0" stroke="#cc38c2" stroke-width="1.2"/>
<path d="M352.3 298.1H358.3M355.3 295.1V301.1" stroke="#cc38c2" stroke-width="1.2"/>
<path d="M358.8 298.4H364.8M361.8 295.4V301.4" stroke="#cc38c2" stroke-width="1.2"/>
<path d="M366.5 299.7H372.5M369.5 296.7V302.7" stroke="#cc38c2" stroke-width="1.2"/>
<path d="M376.3 303.2H382.3M379.3 300.2V306.2" stroke="#cc38c2" stroke-width="1.2"/>
<path d="M380.2 304.0H386.2M383.2 301.0V307.0" stroke="#cc38c2" stroke-width="1.2"/>
<path d="M385.0 304.2H391.0M388.0 301.2V307.2" stroke="#cc38c2" stroke-width="1.2"/>
<path d="M388.3 304.3H394.3M391.3 301.3V307.3" stroke="#cc38c2" stroke-width="1.2"/>
<path d="M394.6 304.6H400.6M397.6 301.6V307.6" stroke="#cc38c2" stroke-width="1.2"/>
<path d="M396.7 304.7H402.7M399.7 301.7V307.7" stroke="#cc38c2" stroke-width="1.2"/>
<path d="M403.5 307.4H409.5M406.5 304.4V310.4" stroke="#cc38c2" stroke-width="1.2"/>
<path d="M406.0 307.4H412.0M409.0 304.4V310.4" stroke="#cc38c2" stroke-width="1.2"/>
<path d="M413.7 307.4H419.7M416.7 304.4V310.4" stroke="#cc38c2" stroke-width="1.2"/>
<path d="M427.7 310.8H433.7M430.7 307.8V313.8" stroke="#cc38c2" stroke-width="1.2"/>
<path d="M436.6 313.6H442.6M439.6 310.6V316.6" stroke="#cc38c2" stroke-width="1.2"/>
<path d="M440.4 314.7H446.4M443.4 311.7V317.7" stroke="#cc38c2" stroke-width="1.2"/>
<path d="M444.3 316.5H450.3M447.3 313.5V319.5" stroke="#cc38c2" stroke-width="1.2"/>
<path d="M462.0 316.8H468.0M465.0 313.8V319.8" stroke="#cc38c2" stroke-width="1.2"/>
<path d="M468.4 318.9H474.4M471.4 315.9V321.9" stroke="#cc38c2" stroke-width="1.2"/>
<path d="M472.2 321.2H478.2M475.2 318.2V324.2" stroke="#cc38c2" stroke-width="1.2"/>
<path d="M474.0 321.7H480.0M477.0 318.7V324.7" stroke="#cc38c2" stroke-width="1.2"/>
<path d="M476.0 322.4H482.0M479.0 319.4V325.4" stroke="#cc38c2" stroke-width="1.2"/>
<path d="M514.9 325.4H520.9M517.9 322.4V328.4" stroke="#cc38c2" stroke-width="1.2"/>
<path d="M514.4 325.4H521.4M517.9 321.9V328.9" stroke="#cc38c2" stroke-width="2"/>
<text x="46" y="371.8" text-anchor="end" class="t">0.0</text>
<text x="46" y="304.2" text-anchor="end" class="t">0.2</text>
<text x="46" y="236.6" text-anchor="end" class="t">0.4</text>
<text x="46" y="169.0" text-anchor="end" class="t">0.6</text>
<text x="46" y="101.4" text-anchor="end" class="t">0.8</text>
<text x="46" y="33.8" text-anchor="end" class="t">1.0</text>
<text x="74.5" y="400" text-anchor="middle" class="t">0</text>
<text x="118.8" y="400" text-anchor="middle" class="t">1</text>
<text x="163.2" y="400" text-anchor="middle" class="t">2</text>
<text x="207.6" y="400" text-anchor="middle" class="t">3</text>
<text x="251.9" y="400" text-anchor="middle" class="t">4</text>
<text x="296.2" y="400" text-anchor="middle" class="t">5</text>
<text x="340.6" y="400" text-anchor="middle" class="t">6</text>
<text x="384.9" y="400" text-anchor="middle" class="t">7</text>
<text x="429.3" y="400" text-anchor="middle" class="t">8</text>
<text x="473.7" y="400" text-anchor="middle" class="t">9</text>
<text x="518.0" y="400" text-anchor="middle" class="t">10</text>
<text x="297" y="425" text-anchor="middle" class="b" style="font-size:14.5px;letter-spacing:0.44px">Follow-up Duration (Years)</text>
<text transform="translate(17.6 198) rotate(-90)" text-anchor="middle" class="b" style="font-size:14.5px;letter-spacing:0.15px">Cumulative Probability of Survival</text>
<text x="432" y="69.6" class="b" style="font-size:14.6px;letter-spacing:0.3px"><tspan font-style="italic">p</tspan> &lt; 0.001</text>
<text x="113.5" y="296" class="b" style="font-size:14.3px">Study Group</text>
<path d="M59.5 313.5H70.2V308.5H80.3V313.5" fill="none" stroke="#12bdf2" stroke-width="1.4"/>
<text x="86.9" y="315.3" class="t" style="font-size:11.5px;stroke-width:0.15px" textLength="65.1" lengthAdjust="spacingAndGlyphs">COPD−, AF−</text>
<path d="M194.2 310.7H215.6M204.9 305.5V315.9" stroke="#12bdf2" stroke-width="1.2"/>
<path d="M59.5 327.1H70.2V322.1H80.3V327.1" fill="none" stroke="#52a6e6" stroke-width="1.4"/>
<text x="86.9" y="329.2" class="t" style="font-size:11.5px;stroke-width:0.15px" textLength="67.5" lengthAdjust="spacingAndGlyphs">COPD+, AF−</text>
<path d="M194.2 324.3H215.6M204.9 319.1V329.5" stroke="#3f63b4" stroke-width="1.2"/>
<path d="M59.5 340.7H70.2V335.7H80.3V340.7" fill="none" stroke="#f6383c" stroke-width="1.4"/>
<text x="86.9" y="343.1" class="t" style="font-size:11.5px;stroke-width:0.15px" textLength="66.5" lengthAdjust="spacingAndGlyphs">COPD−, AF+</text>
<path d="M194.2 337.9H215.6M204.9 332.7V343.1" stroke="#f6383c" stroke-width="1.2"/>
<path d="M59.5 354.3H70.2V349.3H80.3V354.3" fill="none" stroke="#cc38c2" stroke-width="1.4"/>
<text x="86.9" y="357.0" class="t" style="font-size:11.5px;stroke-width:0.15px" textLength="69.5" lengthAdjust="spacingAndGlyphs">COPD+, AF+</text>
<path d="M194.2 351.5H215.6M204.9 346.3V356.7" stroke="#cc38c2" stroke-width="1.2"/>
</svg></body></html>
